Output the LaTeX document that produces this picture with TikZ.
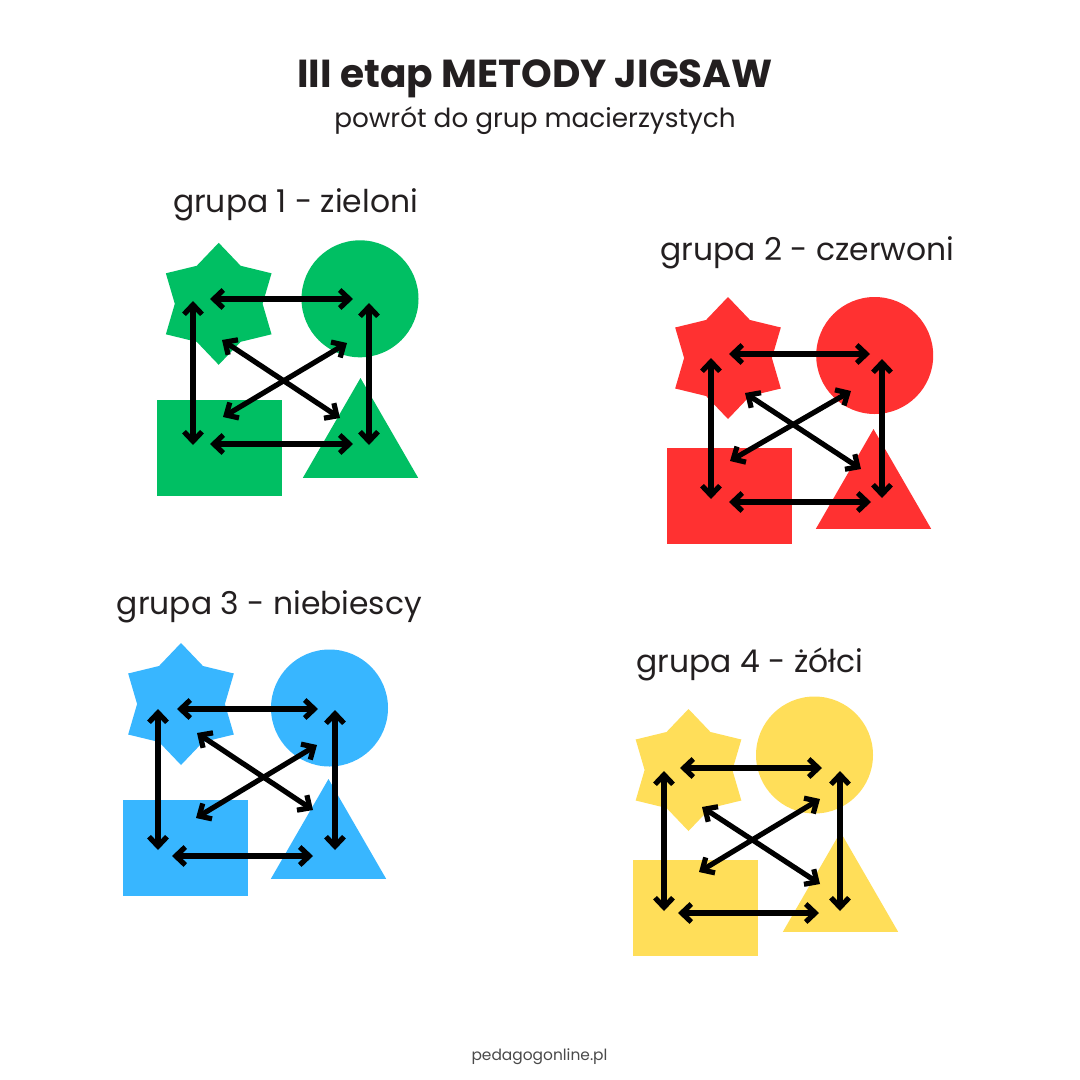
\documentclass[tikz,border=0pt]{standalone}
\usepackage{fontspec}
\setmainfont{Poppins}
\usetikzlibrary{arrows.meta,shapes.geometric}
\definecolor{cgreen}{HTML}{00BF63}
\definecolor{cred}{HTML}{FF3131}
\definecolor{cblue}{HTML}{38B6FF}
\definecolor{cyellow}{HTML}{FFDE59}
\definecolor{ink}{HTML}{231F20}
\definecolor{footgray}{HTML}{4A4A4A}
\tikzset{
  shp/.style={inner sep=0pt, outer sep=0pt, draw=none},
  starshape/.style={shp, star, star points=6, star point ratio=1.39, minimum size=122bp},
  circshape/.style={shp, circle, minimum size=117bp},
  sqshape/.style={shp, rectangle, minimum width=125bp, minimum height=96bp},
  trishape/.style={shp, regular polygon, regular polygon sides=3, minimum size=133bp},
  arr/.style={line width=5.2bp, black, line cap=round,
    {Straight Barb[length=9.5bp,width=18bp]}-{Straight Barb[length=9.5bp,width=18bp]}},
  title/.style={anchor=base, text=ink, font=\fontsize{39.2}{42}\selectfont\bfseries},
  subtitle/.style={anchor=base, text=ink, font=\fontsize{26.4}{30}\selectfont},
  grouplabel/.style={anchor=base, text=ink, font=\fontsize{31.5}{34}\selectfont},
  footer/.style={anchor=base, text=footgray, font=\fontsize{15.5}{18}\selectfont}
}
\begin{document}
\begin{tikzpicture}[x=1bp,y=-1bp]
\fill[white] (0,0) rectangle (1080,1080);
\useasboundingbox (0,0) rectangle (1080,1080);

% texts
\node[title] (ttl) at (535,87) {III etap METODY JIGSAW};
\node[subtitle] (sub) at (535,127) {powrót do grup macierzystych};
\node[grouplabel] (lab1) at (295.5,212) {grupa 1 - zieloni};
\node[grouplabel] (lab2) at (807.5,260) {grupa 2 - czerwoni};
\node[grouplabel] (lab3) at (269.5,614) {grupa 3 - niebiescy};
\node[grouplabel] (lab4) at (750,672) {grupa 4 - żółci};
\node[footer] (foot) at (539.5,1060) {pedagogonline.pl};

% ---------- group 1 (green)
\node[starshape, fill=cgreen] (g1star) at (218.7,303.8) {};
\node[circshape, fill=cgreen] (g1circ) at (360,298.8) {};
\node[sqshape, fill=cgreen] (g1sq) at (219.5,448) {};
\node[trishape, fill=cgreen] (g1tri) at (360.5,444.5) {};
\coordinate (g1a) at (210,299);   \coordinate (g1b) at (353,299);
\coordinate (g1c) at (193,301);   \coordinate (g1d) at (193,445);
\coordinate (g1e) at (369,303);   \coordinate (g1f) at (369,445);
\coordinate (g1g) at (210,444);   \coordinate (g1h) at (353,444);
\coordinate (g1i) at (222,340);   \coordinate (g1j) at (340,418);
\coordinate (g1k) at (347,343);   \coordinate (g1l) at (223,417);
\draw[arr] (g1a) -- (g1b);
\draw[arr] (g1c) -- (g1d);
\draw[arr] (g1e) -- (g1f);
\draw[arr] (g1g) -- (g1h);
\draw[arr] (g1i) -- (g1j);
\draw[arr] (g1k) -- (g1l);

% ---------- group 2 (red)
\node[starshape, fill=cred] (g2star) at (728,358) {};
\node[circshape, fill=cred] (g2circ) at (874.7,355.5) {};
\node[sqshape, fill=cred] (g2sq) at (729,496) {};
\node[trishape, fill=cred] (g2tri) at (873.5,495.5) {};
\coordinate (g2a) at (729,354);   \coordinate (g2b) at (870,354);
\coordinate (g2c) at (711,358);   \coordinate (g2d) at (711,499);
\coordinate (g2e) at (882,359);   \coordinate (g2f) at (882,498);
\coordinate (g2g) at (729,502);   \coordinate (g2h) at (871,502);
\coordinate (g2i) at (745,393);   \coordinate (g2j) at (861,469);
\coordinate (g2k) at (851,391);   \coordinate (g2l) at (730,461);
\draw[arr] (g2a) -- (g2b);
\draw[arr] (g2c) -- (g2d);
\draw[arr] (g2e) -- (g2f);
\draw[arr] (g2g) -- (g2h);
\draw[arr] (g2i) -- (g2j);
\draw[arr] (g2k) -- (g2l);

% ---------- group 3 (blue)
\node[starshape, fill=cblue] (g3star) at (181,704) {};
\node[circshape, fill=cblue] (g3circ) at (329.5,708) {};
\node[sqshape, fill=cblue] (g3sq) at (185,848) {};
\node[trishape, fill=cblue] (g3tri) at (328.5,845.5) {};
\coordinate (g3a) at (177,709);   \coordinate (g3b) at (318,709);
\coordinate (g3c) at (158,709);   \coordinate (g3d) at (158,850);
\coordinate (g3e) at (335,710);   \coordinate (g3f) at (335,850);
\coordinate (g3g) at (172,856);   \coordinate (g3h) at (313,856);
\coordinate (g3i) at (197,733);   \coordinate (g3j) at (313,810);
\coordinate (g3k) at (317,745);   \coordinate (g3l) at (196,818);
\draw[arr] (g3a) -- (g3b);
\draw[arr] (g3c) -- (g3d);
\draw[arr] (g3e) -- (g3f);
\draw[arr] (g3g) -- (g3h);
\draw[arr] (g3i) -- (g3j);
\draw[arr] (g3k) -- (g3l);

% ---------- group 4 (yellow)
\node[starshape, fill=cyellow] (g4star) at (688.5,770) {};
\node[circshape, fill=cyellow] (g4circ) at (814.5,755) {};
\node[sqshape, fill=cyellow] (g4sq) at (695.5,908) {};
\node[trishape, fill=cyellow] (g4tri) at (840.5,898.5) {};
\coordinate (g4a) at (680,768);   \coordinate (g4b) at (822,768);
\coordinate (g4c) at (664,771);   \coordinate (g4d) at (664,911);
\coordinate (g4e) at (840,771);   \coordinate (g4f) at (840,911);
\coordinate (g4g) at (678,913);   \coordinate (g4h) at (819,913);
\coordinate (g4i) at (702,807);   \coordinate (g4j) at (820,884);
\coordinate (g4k) at (820,799);   \coordinate (g4l) at (699,872);
\draw[arr] (g4a) -- (g4b);
\draw[arr] (g4c) -- (g4d);
\draw[arr] (g4e) -- (g4f);
\draw[arr] (g4g) -- (g4h);
\draw[arr] (g4i) -- (g4j);
\draw[arr] (g4k) -- (g4l);
\end{tikzpicture}
\end{document}
